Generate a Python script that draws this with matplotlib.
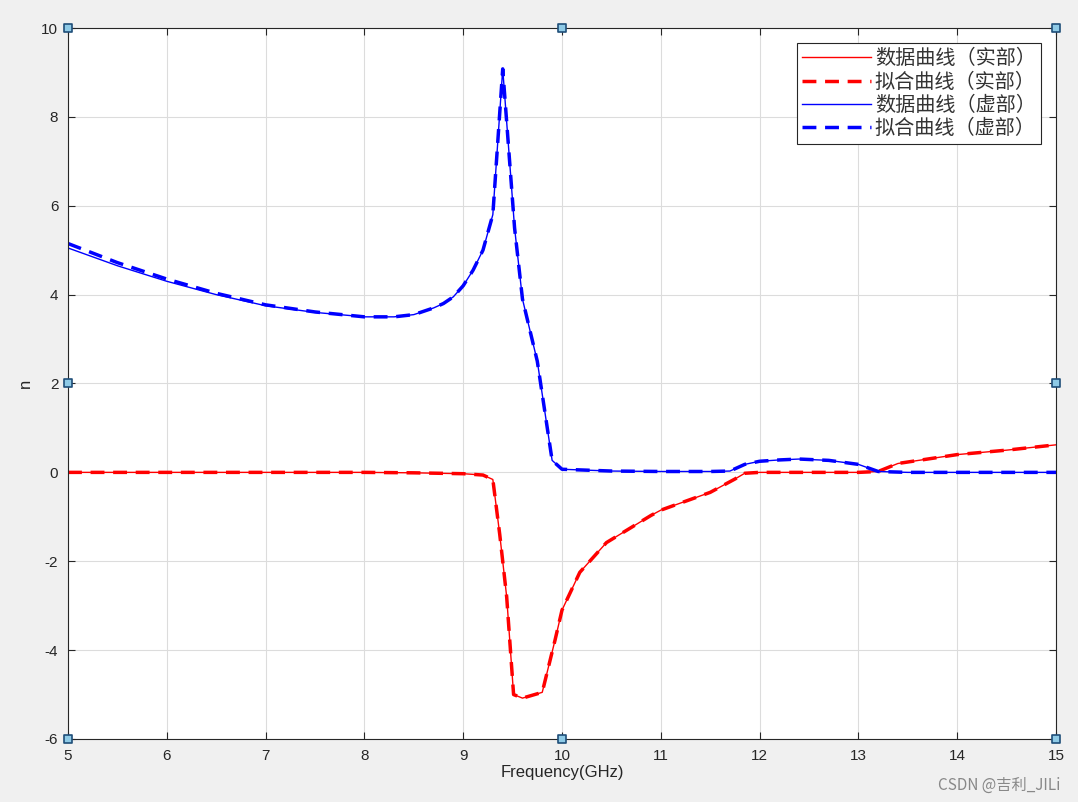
import matplotlib.pyplot as plt
import numpy as np

plt.rcParams['font.family'] = ['Liberation Sans', 'Noto Sans CJK SC', 'DejaVu Sans']
plt.rcParams['axes.unicode_minus'] = False

# imaginary part (blue)
f_im = [5, 5.5, 6, 6.5, 7, 7.5, 8, 8.3, 8.5, 8.7, 8.8, 8.9, 9.0, 9.1, 9.2, 9.3, 9.4, 9.52, 9.6, 9.75, 9.9, 10.0,
        10.5, 11, 11.5, 11.7, 11.85, 12.0, 12.2, 12.4, 12.7, 13.0, 13.2, 13.5, 14, 14.5, 15]
im_data = [5.05, 4.65, 4.3, 4.0, 3.75, 3.6, 3.5, 3.5, 3.55, 3.7, 3.8, 3.95, 4.2, 4.55, 5.0, 5.8, 9.08, 5.5, 3.9, 2.5, 0.27, 0.07,
           0.03, 0.02, 0.02, 0.03, 0.18, 0.25, 0.28, 0.3, 0.27, 0.18, 0.02, 0.0, 0.0, 0.0, 0.0]
im_fit = [5.15, 4.72, 4.35, 4.03, 3.77, 3.61, 3.5, 3.5, 3.55, 3.7, 3.8, 3.95, 4.2, 4.55, 5.0, 5.8, 9.08, 5.5, 3.9, 2.5, 0.27, 0.07,
          0.03, 0.02, 0.02, 0.03, 0.18, 0.25, 0.28, 0.3, 0.27, 0.18, 0.02, 0.0, 0.0, 0.0, 0.0]

# real part (red)
f_re = [5, 6, 7, 8, 8.5, 9.0, 9.2, 9.3, 9.37, 9.44, 9.51, 9.6, 9.8, 9.93, 10.0, 10.18, 10.45, 10.9, 11.0, 11.5,
        11.75, 11.85, 12.0, 12.5, 13.0, 13.2, 13.4, 13.7, 14.0, 14.5, 15]
re_data = [0.0, 0.0, 0.0, 0.0, -0.01, -0.03, -0.06, -0.16, -1.4, -2.8, -5.0, -5.08, -4.95, -3.77, -3.1, -2.25, -1.58, -0.97,
           -0.85, -0.45, -0.15, -0.02, 0.0, 0.0, 0.0, 0.02, 0.2, 0.3, 0.4, 0.5, 0.62]
re_fit = re_data

fig = plt.figure(figsize=(10.78, 8.02), dpi=100, facecolor='#f0f0f0')
ax = fig.add_axes([68 / 1078, 1 - 739 / 802, 988 / 1078, 711 / 802])

ax.plot(f_re, re_data, color='red', lw=1, label='数据曲线（实部）')
ax.plot(f_re, re_fit, color='red', lw=2.5, ls=(0, (4, 2.5)), label='拟合曲线（实部）')
ax.plot(f_im, im_data, color='blue', lw=1, label='数据曲线（虚部）')
ax.plot(f_im, im_fit, color='blue', lw=2.5, ls=(0, (4, 2.5)), label='拟合曲线（虚部）')

ax.set_xlim(5, 15)
ax.set_ylim(-6, 10)
ax.set_xticks(np.arange(5, 16, 1))
ax.set_yticks(np.arange(-6, 11, 2))
ax.grid(True, color='#dcdcdc', lw=0.8)
ax.tick_params(direction='in', labelsize=11, colors='#262626', length=5, top=True, right=True, pad=7)
for s in ax.spines.values():
    s.set_color('#262626')
    s.set_linewidth(0.8)
ax.set_xlabel('Frequency(GHz)', fontsize=12, color='#262626', labelpad=2)
ax.set_ylabel('n', fontsize=12, color='#262626', labelpad=6)

leg = ax.legend(loc='upper right', prop={'family': ['Noto Sans CJK SC'], 'size': 14.5},
                fancybox=False, framealpha=1, edgecolor='#262626', borderaxespad=0.75,
                handlelength=3.4, labelspacing=0.12, borderpad=0.25, handletextpad=0.2)
leg.get_frame().set_linewidth(0.8)
for t in leg.get_texts():
    t.set_color('#333333')

# selection handles
hx = [5, 10, 15, 5, 15, 5, 10, 15]
hy = [10, 10, 10, 2, 2, -6, -6, -6]
ax.scatter(hx, hy, marker='s', s=40, facecolor='#8ecae6', edgecolor='#1f4e79', lw=1.2, clip_on=False, zorder=10)

fig.text(1060 / 1078, 1 - 785 / 802, 'CSDN @吉利_JILi', ha='right', va='center', fontsize=11,
         color='#888888', family=['Noto Sans CJK SC'])

fig.savefig('out.png', dpi=100, facecolor=fig.get_facecolor())
